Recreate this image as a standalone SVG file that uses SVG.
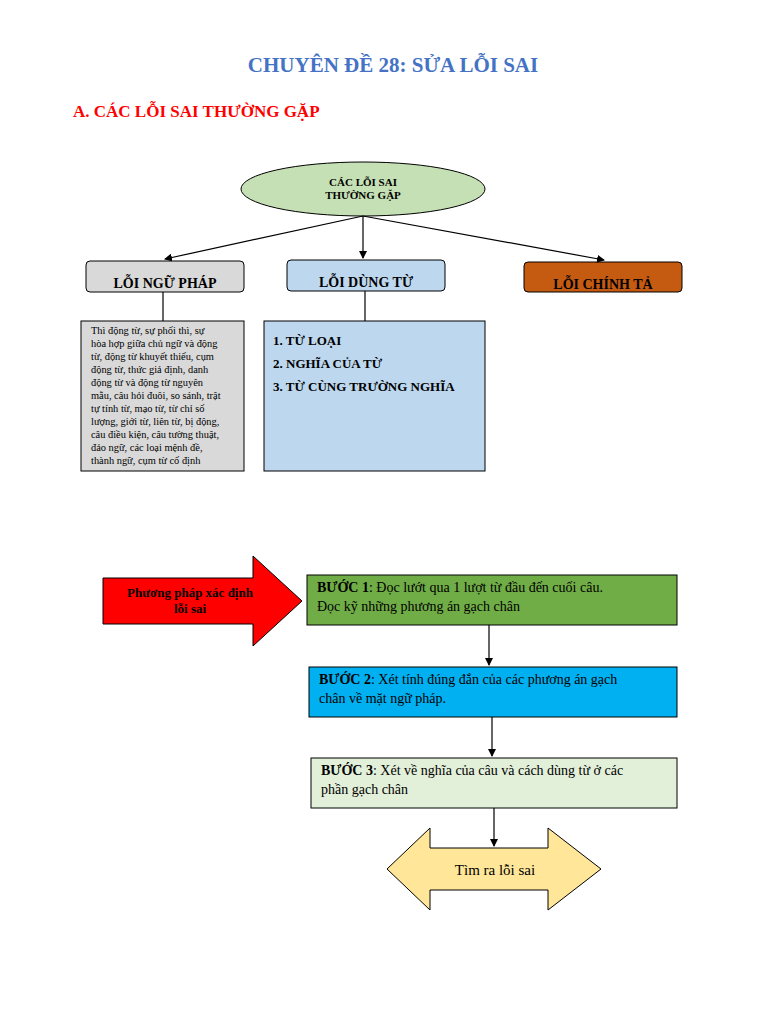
<svg xmlns="http://www.w3.org/2000/svg" width="768" height="1024" viewBox="0 0 768 1024">
<defs><marker id="ah" markerWidth="8" markerHeight="8" refX="7" refY="4" orient="auto" markerUnits="userSpaceOnUse"><path d="M0,0 L8,4 L0,8 z" fill="#000"/></marker></defs>
<style>
text{font-family:"Liberation Serif",serif;fill:#000}
.b{font-weight:bold}
.c{stroke:#000;stroke-width:1.2;fill:none}
</style>
<rect width="768" height="1024" fill="#fff"/>
<text x="393" y="72" text-anchor="middle" class="b" font-size="21" style="fill:#4472c4">CHUYÊN ĐỀ 28: SỬA LỖI SAI</text>
<text x="73" y="117" class="b" font-size="17" style="fill:#ff0000">A. CÁC LỖI SAI THƯỜNG GẶP</text>
<g id="root"><ellipse cx="363" cy="189" rx="122" ry="27" fill="#c5e0b4" stroke="#000"/>
<text x="363" y="186" text-anchor="middle" class="b" font-size="11">CÁC LỖI SAI</text><text x="363" y="199" text-anchor="middle" class="b" font-size="11">THƯỜNG GẶP</text></g>
<g id="ngp"><rect x="86" y="261" width="158" height="31" rx="4" fill="#d9d9d9" stroke="#000"/><text x="165" y="288" text-anchor="middle" class="b" font-size="14">LỖI NGỮ PHÁP</text></g>
<g id="dt"><rect x="287" y="260" width="158" height="31" rx="4" fill="#bdd7ee" stroke="#000"/><text x="366" y="287" text-anchor="middle" class="b" font-size="14">LỖI DÙNG TỪ</text></g>
<g id="ct"><rect x="524" y="262" width="158" height="30" rx="4" fill="#c55a11" stroke="#000"/><text x="603" y="289" text-anchor="middle" class="b" font-size="14">LỖI CHÍNH TẢ</text></g>
<g id="ngpd"><rect x="81" y="321" width="163" height="150" fill="#d9d9d9" stroke="#000"/>
<g font-size="10.4"><text x="91" y="334">Thì động từ, sự phối thì, sự</text><text x="91" y="347">hòa hợp giữa chủ ngữ và động</text><text x="91" y="360">từ, động từ khuyết thiếu, cụm</text><text x="91" y="373">động từ, thức giả định, danh</text><text x="91" y="386">động từ và động từ nguyên</text><text x="91" y="399">mẫu, câu hỏi đuôi, so sánh, trật</text><text x="91" y="412">tự tính từ, mạo từ, từ chỉ số</text><text x="91" y="425">lượng, giới từ, liên từ, bị động,</text><text x="91" y="438">câu điều kiện, câu tường thuật,</text><text x="91" y="451">đảo ngữ, các loại mệnh đề,</text><text x="91" y="464">thành ngữ, cụm từ cố định</text></g></g>
<g id="dtd"><rect x="264" y="321" width="221" height="150" fill="#bdd7ee" stroke="#000"/>
<g class="b" font-size="13"><text x="273" y="345">1. TỪ LOẠI</text><text x="273" y="368">2. NGHĨA CỦA TỪ</text><text x="273" y="391">3. TỪ CÙNG TRƯỜNG NGHĨA</text></g></g>
<g id="pp"><path d="M103,578 H253 V556 L302,601 L253,646 V624 H103 Z" fill="#ff0000" stroke="#000"/>
<text x="190" y="597" text-anchor="middle" class="b" font-size="13">Phương pháp xác định</text><text x="190" y="613" text-anchor="middle" class="b" font-size="13">lỗi sai</text></g>
<g id="b1"><rect x="307" y="575" width="370" height="50" fill="#70ad47" stroke="#000"/>
<text x="317" y="592" font-size="14"><tspan class="b">BƯỚC 1</tspan>: Đọc lướt qua 1 lượt từ đầu đến cuối câu.</text><text x="317" y="611" font-size="14">Đọc kỹ những phương án gạch chân</text></g>
<g id="b2"><rect x="309" y="667" width="368" height="50" fill="#00b0f0" stroke="#000"/>
<text x="319" y="684" font-size="14"><tspan class="b">BƯỚC 2</tspan>: Xét tính đúng đắn của các phương án gạch</text><text x="319" y="703" font-size="14">chân về mặt ngữ pháp.</text></g>
<g id="b3"><rect x="311" y="758" width="366" height="50" fill="#e2efd9" stroke="#000"/>
<text x="321" y="775" font-size="14"><tspan class="b">BƯỚC 3</tspan>: Xét về nghĩa của câu và cách dùng từ ở các</text><text x="321" y="794" font-size="14">phần gạch chân</text></g>
<g id="tim"><path d="M387,869 L430,828 V848 H548 V828 L601,869 L548,910 V890 H430 V910 Z" fill="#ffe699" stroke="#000"/>
<text x="495" y="875" text-anchor="middle" font-size="15">Tìm ra lỗi sai</text></g>
<g id="connectors" class="c">
<line x1="363" y1="216" x2="165" y2="259" marker-end="url(#ah)"/>
<line x1="363" y1="216" x2="363" y2="258" marker-end="url(#ah)"/>
<line x1="363" y1="216" x2="604" y2="260" marker-end="url(#ah)"/>
<line x1="163" y1="292" x2="163" y2="321"/>
<line x1="365" y1="291" x2="365" y2="321"/>
<line x1="489" y1="625" x2="489" y2="665" marker-end="url(#ah)"/>
<line x1="492" y1="717" x2="492" y2="756" marker-end="url(#ah)"/>
<line x1="494" y1="808" x2="494" y2="846" marker-end="url(#ah)"/>
</g>
</svg>
